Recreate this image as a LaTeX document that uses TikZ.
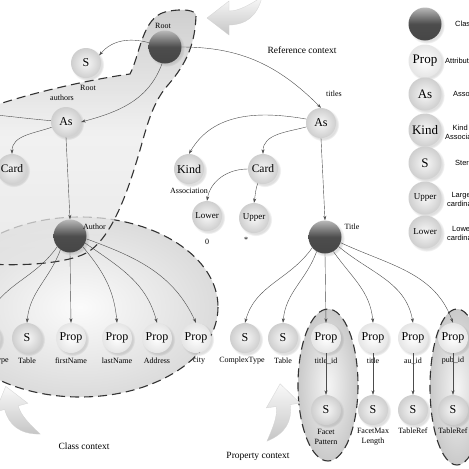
\documentclass[tikz,border=0pt]{standalone}
\usepackage{fontspec}
\setmainfont{Liberation Serif}
\newfontfamily\legfont{Liberation Sans}
\usetikzlibrary{arrows.meta,shadows}

\begin{document}
\begin{tikzpicture}[x=1pt,y=-1pt]

\tikzset{
	ball/.style={circle,minimum size=30pt,inner sep=0pt,
	  shading=radial,inner color=gray!6,outer color=gray!38,
	  circular drop shadow={shadow xshift=1.5pt,shadow yshift=-1.5pt,opacity=0.25},
	  font=\fontsize{12}{12}\selectfont},
	cls/.style={ball,minimum size=33pt,shading=axis,top color=gray!55,bottom color=gray!55!black,
	  middle color=gray!60!black},
	prop/.style={ball,inner color=white,outer color=gray!20},
	card/.style={ball,font=\fontsize{9}{9}\selectfont},
	lbl/.style={font=\fontsize{8}{10}\selectfont,inner sep=1pt,align=center},
	ctxtext/.style={font=\fontsize{9.5}{10}\selectfont},
	legtext/.style={font=\legfont\fontsize{7.5}{9}\selectfont,anchor=west,align=center,inner sep=0pt},
	arr/.style={-{Stealth[length=4.5pt,width=3pt]},gray!60!black,line width=0.4pt},
	ctx/.style={dash pattern=on 9pt off 5pt,line width=1.1pt,black!80},
}
\tikzset{
	pics/bigarrow/.style={code={
	\shadedraw[top color=gray!5,bottom color=gray!45,draw=gray!35,line width=0.3pt]
	  (30,5) .. controls (10,0) and (2,-12) .. (2,-28) -- (-8,-28) -- (9,-50)
	  -- (26,-28) -- (16,-28) .. controls (16,-18) and (22,-8) .. (30,5) -- cycle;
	},
	}
}
\useasboundingbox (0,0) rectangle (469,469);
\clip (0,0) rectangle (469,469);
\fill[white] (0,0) rectangle (469,469);

%CLASS CONTEXT
\shadedraw[ctx,inner color=gray!3,outer color=gray!28] (80,307) ellipse [x radius=138,y radius=90];
%PROPERTY CONTEXT
\shadedraw[ctx,inner color=gray!8,outer color=gray!42] (328,385) ellipse [x radius=30,y radius=76];
\shadedraw[ctx,inner color=gray!8,outer color=gray!42] (457,387) ellipse [x radius=27,y radius=78];
%REFERENCE CONTEXT
\shadedraw[ctx,top color=gray!50,bottom color=gray!22,middle color=gray!14,fill opacity=0.75]
  (-10,107) .. controls (40,90) and (100,78) .. (130,74)
  .. controls (140,55) and (142,18) .. (165,12)
  .. controls (182,8) and (197,10) .. (196,16)
  .. controls (195,42) and (188,62) .. (168,85)
  .. controls (150,105) and (145,135) .. (137,160)
  .. controls (125,200) and (108,245) .. (82,255)
  .. controls (60,264) and (20,266) .. (-10,264) -- cycle;

%BIG ARROWS
\draw (257,27) pic[rotate=90] {bigarrow};
\draw (10,437) pic[rotate=15] {bigarrow};
\draw (296,432) pic[xscale=-1,rotate=-8] {bigarrow};

\node[ctxtext] (tRef) at (302,50) {Reference context};
\node[ctxtext] (tClass) at (84,446) {Class context};
\node[ctxtext] (tProperty) at (258,456) {Property context};

%ROOT
\node[cls] (root) at (165,47) {};
\node[lbl] (lRoot) at (163,26) {Root};
\node[ball] (sRoot) at (86,63) {S};
\node[lbl] (lRootS) at (88,88) {Root};
\node[ball] (asA) at (66,122) {As};
\node[lbl] (lAuthors) at (62,98) {authors};
\node[ball,font=\fontsize{11.5}{12}\selectfont] (cardA) at (12,169) {Card};
\coordinate (offK) at (-60,112);
\coordinate (offC) at (-40,198);

%AUTHOR
\node[cls] (author) at (70,236) {};
\node[lbl,anchor=west] (lAuthor) at (82,227) {Author};
\node[ball] (ctA) at (-14,338) {S};
\node[ball] (tabA) at (27,338) {S};
\node[prop] (fn) at (71,338) {Prop};
\node[prop] (ln) at (117,338) {Prop};
\node[prop] (addr) at (157,338) {Prop};
\node[prop] (city) at (196,338) {Prop};
\node[lbl] (lctA) at (-14,361) {ComplexType};
\node[lbl] (ltabA) at (27,361) {Table};
\node[lbl] (lfn) at (71,361) {firstName};
\node[lbl] (lln) at (117,361) {lastName};
\node[lbl] (laddr) at (157,361) {Address};
\node[lbl] (lcity) at (199,361) {city};

%TITLES
\node[ball] (asT) at (321,123) {As};
\node[lbl] (lTitles) at (334,94) {titles};
\node[ball] (kind) at (189,169) {Kind};
\node[lbl] (lAssoc) at (189,191) {Association};
\node[ball,font=\fontsize{11.5}{12}\selectfont] (card) at (263,169) {Card};
\node[card] (lower) at (207,216) {Lower};
\node[lbl] (lZero) at (207,242) {0};
\node[card] (upper) at (254,218) {Upper};
\node[lbl] (lStar) at (246,240) {*};

%TITLE
\node[cls] (title) at (325,237) {};
\node[lbl] (lTitle) at (352,227) {Title};
\node[ball] (ctT) at (245,338) {S};
\node[ball] (tabT) at (283,338) {S};
\node[prop] (tid) at (326,338) {Prop};
\node[prop] (ttl) at (373,338) {Prop};
\node[prop] (auid) at (413,338) {Prop};
\node[prop] (pubid) at (453,338) {Prop};
\node[lbl] (lctT) at (242,361) {ComplexType};
\node[lbl] (ltabT) at (283,361) {Table};
\node[lbl] (ltid) at (326,361) {title\_id};
\node[lbl] (lttl) at (373,361) {title};
\node[lbl] (lauid) at (413,361) {au\_id};
\node[lbl] (lpubid) at (453,361) {pub\_id};
\node[ball] (fp) at (326,410) {S};
\node[ball] (fml) at (373,410) {S};
\node[ball] (tr) at (413,410) {S};
\node[ball] (trP) at (453,410) {S};
\node[lbl] (lfp) at (326,437) {Facet\\Pattern};
\node[lbl] (lfml) at (373,437) {FacetMax\\Length};
\node[lbl] (ltr) at (413,431) {TableRef};
\node[lbl] (ltrP) at (453,431) {TableRef};

%LEGEND
\node[cls] (lgCls) at (425,24) {};
\node[prop,minimum size=33pt,font=\fontsize{13}{13}\selectfont] (lgProp) at (425,61) {Prop};
\node[ball,minimum size=33pt,font=\fontsize{13}{13}\selectfont] (lgAs) at (425,94) {As};
\node[ball,minimum size=33pt,font=\fontsize{13}{13}\selectfont] (lgKind) at (425,130) {Kind};
\node[ball,minimum size=33pt,font=\fontsize{13}{13}\selectfont] (lgS) at (425,163) {S};
\node[card,minimum size=33pt] (lgUp) at (425,198) {Upper};
\node[card,minimum size=33pt] (lgLow) at (425,232) {Lower};
\node[legtext] (lgtCls) at (455,24) {Class};
\node[legtext] (lgtProp) at (445,61) {Attribute};
\node[legtext] (lgtAs) at (453,94) {Association};
\node[legtext] (lgtKind) at (445,132) {Kind of\\Association};
\node[legtext] (lgtS) at (455,164) {Stereotype};
\node[legtext] (lgtUp) at (447,200) {Largest\\cardinality};
\node[legtext] (lgtLow) at (447,234) {Lowest\\cardinality};

%EDGES ROOT
\draw[arr] (root.165) to[out=165,in=50] (sRoot.30);
\draw[arr] (root.260) to[out=250,in=15] (asA.east);
\draw[arr] (root.east) to[out=0,in=135] (asT.north);
\draw[gray!60!black,line width=0.4pt] (asA.175) to[out=175,in=0] (offK);
\draw[arr] (asA.200) to[out=200,in=90] (cardA.north);
\draw[gray!60!black,line width=0.4pt] (cardA.205) -- (offC);
\draw[arr] (asA.south) -- (author.north);
%EDGES AUTHOR
\draw[arr] (author.220) to[out=235,in=70] (ctA.north);
\draw[arr] (author.235) to[out=250,in=85] (tabA.north);
\draw[arr] (author.south) -- (fn.north);
\draw[arr] (author.-40) to[out=-50,in=95] (ln.north);
\draw[arr] (author.-25) to[out=-35,in=105] (addr.north);
\draw[arr] (author.-10) to[out=-20,in=115] (city.north);
%EDGES TITLES
\draw[arr] (asT.165) to[out=170,in=60] (kind.north);
\draw[arr] (asT.195) to[out=195,in=90] (card.north);
\draw[arr] (asT.south) -- (title.north);
\draw[arr] (card.west) to[out=180,in=80] (lower.north);
\draw[arr] (card.250) to[out=250,in=80] (upper.north);
%EDGES TITLE
\draw[arr] (title.220) to[out=235,in=75] (ctT.north);
\draw[arr] (title.240) to[out=250,in=85] (tabT.north);
\draw[arr] (title.south) -- (tid.north);
\draw[arr] (title.-60) to[out=-55,in=95] (ttl.north);
\draw[arr] (title.-35) to[out=-40,in=100] (auid.north);
\draw[arr] (title.-20) to[out=-25,in=110] (pubid.north);
\draw[arr] (tid) -- (fp);
\draw[arr] (ttl) -- (fml);
\draw[arr] (auid) -- (tr);
\draw[arr] (pubid) -- (trP);
\end{tikzpicture}
\end{document}
